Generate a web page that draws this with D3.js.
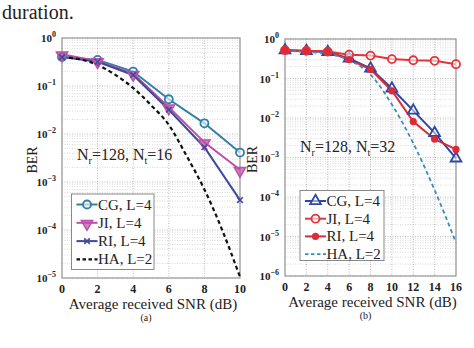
<!DOCTYPE html>
<html>
  <head>
    <meta charset="utf-8" />
    <style>
      body { margin: 0; background: #fff; }
      text { font-family: "Liberation Serif", "DejaVu Serif", serif; fill: #222; }
    </style>
  </head>
  <body>

<svg id="graph"></svg>

<script src="https://d3js.org/d3.v7.min.js"></script>
<script>
const WIDTH = 474
const HEIGHT = 348

// panel (a) : N_r=128, N_t=16
const SNR_A = [0, 2, 4, 6, 8, 10]
const CG_A = [0.40, 0.35, 0.20, 0.053, 0.0167, 0.0041]
const JI_A = [0.46, 0.33, 0.18, 0.036, 0.0067, 0.0018]
const RI_A = [0.40, 0.32, 0.17, 0.032, 0.0053, 0.00042]
const HA_SNR_A = [0, 1, 2, 3, 4, 5, 6, 7, 8, 9, 10]
const HA_A = [0.40, 0.36, 0.275, 0.17, 0.091, 0.040, 0.0155, 0.0035, 0.0007, 0.0001, 0.0000105]
const X_TICKS_A = [0, 2, 4, 6, 8, 10]
const Y_EXP_A = [0, -1, -2, -3, -4, -5]

// panel (b) : N_r=128, N_t=32
const SNR_B = [0, 2, 4, 6, 8, 10, 12, 14, 16]
const CG_B = [0.52, 0.50, 0.47, 0.32, 0.18, 0.056, 0.0154, 0.0042, 0.00095]
const JI_B = [0.52, 0.50, 0.48, 0.40, 0.38, 0.31, 0.29, 0.28, 0.23]
const RI_B = [0.52, 0.50, 0.48, 0.30, 0.17, 0.049, 0.0081, 0.0029, 0.0016]
const HA_B = [0.50, 0.47, 0.42, 0.29, 0.125, 0.022, 0.0023, 0.00015, 0.000007]
const X_TICKS_B = [0, 2, 4, 6, 8, 10, 12, 14, 16]
const Y_EXP_B = [0, -1, -2, -3, -4, -5, -6]

const svg = d3.select('#graph')
  .attr('width', WIDTH)
  .attr('height', HEIGHT)

svg.append('rect').attr('width', WIDTH).attr('height', HEIGHT).attr('fill', '#fff')

// bout de texte du papier, en haut
svg.append('text')
  .attr('x', 2).attr('y', 19)
  .style('font-size', '20px')
  .text('duration.')

function marker(g, type, color, x, y) {
  if (type === 'circle') {
    g.append('circle').attr('cx', x).attr('cy', y).attr('r', 4)
      .attr('fill', '#fff').attr('fill-opacity', 0.6).attr('stroke', color).attr('stroke-width', 1.8)
  } else if (type === 'dot') {
    g.append('circle').attr('cx', x).attr('cy', y).attr('r', 3.6).attr('fill', color)
  } else if (type === 'tridown') {
    g.append('path').attr('d', d3.symbol(d3.symbolTriangle, 55)())
      .attr('transform', `translate(${x},${y + 1}) rotate(180)`)
      .attr('fill', color).attr('fill-opacity', 0.7).attr('stroke', color).attr('stroke-width', 1.5)
  } else if (type === 'triup') {
    g.append('path').attr('d', d3.symbol(d3.symbolTriangle, 50)())
      .attr('transform', `translate(${x},${y})`)
      .attr('fill', '#fff').attr('fill-opacity', 0.5).attr('stroke', color).attr('stroke-width', 1.8)
  } else if (type === 'x') {
    g.append('path').attr('d', d3.symbol(d3.symbolX, 22)())
      .attr('transform', `translate(${x},${y})`)
      .attr('fill', 'none').attr('stroke', color).attr('stroke-width', 1.6)
  }
}

function drawPanel(p) {
  const x = d3.scaleLinear().domain(p.xDomain).range([p.left, p.right])
  const y = d3.scaleLog().domain(p.yDomain).range([p.bottom, p.top])
  const g = svg.append('g')

  // grille secondaire (décades)
  const minor = []
  for (let e = Math.round(Math.log10(p.yDomain[0])); e < 0; e++) {
    for (let k = 2; k <= 9; k++) minor.push(k * Math.pow(10, e))
  }
  g.selectAll('.minor').data(minor).enter().append('line')
    .attr('x1', p.left).attr('x2', p.right)
    .attr('y1', d => y(d)).attr('y2', d => y(d))
    .attr('stroke', '#c8c8c8').attr('stroke-width', 0.7).attr('stroke-dasharray', '1,1.5')

  // grille principale
  g.selectAll('.hmaj').data(p.yExp).enter().append('line')
    .attr('x1', p.left).attr('x2', p.right)
    .attr('y1', d => y(Math.pow(10, d))).attr('y2', d => y(Math.pow(10, d)))
    .attr('stroke', '#aaa').attr('stroke-width', 0.8).attr('stroke-dasharray', '1,1.5')
  g.selectAll('.vmaj').data(p.xTicks).enter().append('line')
    .attr('x1', d => x(d)).attr('x2', d => x(d))
    .attr('y1', p.top).attr('y2', p.bottom)
    .attr('stroke', '#aaa').attr('stroke-width', 0.8).attr('stroke-dasharray', '1,1.5')

  // cadre
  g.append('rect')
    .attr('x', p.left).attr('y', p.top)
    .attr('width', p.right - p.left).attr('height', p.bottom - p.top)
    .attr('fill', 'none').attr('stroke', '#999').attr('stroke-width', 1.2)

  // labels des ticks
  g.selectAll('.xt').data(p.xTicks).enter().append('text')
    .attr('x', d => x(d)).attr('y', p.bottom + 15)
    .attr('text-anchor', 'middle')
    .style('font-size', '12px').style('font-weight', 'bold')
    .text(d => d)
  const yt = g.selectAll('.yt').data(p.yExp).enter().append('text')
    .attr('x', p.left - 6).attr('y', d => y(Math.pow(10, d)) + 4)
    .attr('text-anchor', 'end')
    .style('font-size', '11px').style('font-weight', 'bold')
  yt.append('tspan').text('10')
  yt.append('tspan').attr('dy', -5).style('font-size', '8px')
    .text(d => d === 0 ? '0' : '\u2212' + (-d))

  // titres d'axes
  g.append('text')
    .attr('transform', `translate(${p.berX},${(p.top + p.bottom) / 2 + 2}) rotate(-90)`)
    .attr('text-anchor', 'middle')
    .style('font-size', '14px')
    .text('BER')
  g.append('text')
    .attr('x', (p.left + p.right) / 2 + 2).attr('y', p.bottom + 31)
    .attr('text-anchor', 'middle')
    .style('font-size', '15px')
    .text('Average received SNR (dB)')
  g.append('text')
    .attr('x', (p.left + p.right) / 2 - 5).attr('y', p.bottom + 43)
    .attr('text-anchor', 'middle')
    .style('font-size', '10px')
    .text(p.tag)

  // annotation N_r, N_t
  const ann = g.append('text')
    .attr('x', p.annX).attr('y', p.annY)
    .style('font-size', '16px')
  ann.append('tspan').text('N')
  ann.append('tspan').attr('dy', 4).style('font-size', '10px').text('r')
  ann.append('tspan').attr('dy', -4).text('=128, N')
  ann.append('tspan').attr('dy', 4).style('font-size', '10px').text('t')
  ann.append('tspan').attr('dy', -4).text('=' + p.nt)

  // courbes
  const clip = 'clip' + p.tag.replace(/\W/g, '')
  svg.append('clipPath').attr('id', clip).append('rect')
    .attr('x', p.left).attr('y', p.top - 10)
    .attr('width', p.right - p.left + 8).attr('height', p.bottom - p.top + 10)
  const lg = g.append('g').attr('clip-path', `url(#${clip})`)
  p.series.forEach(s => {
    const pts = s.snr.map((v, i) => [x(v), y(s.ber[i])])
    const line = d3.line().curve(s.smooth ? d3.curveMonotoneX : d3.curveLinear)
    lg.append('path').attr('d', line(pts))
      .attr('fill', 'none').attr('stroke', s.color).attr('stroke-width', s.width || 2)
      .attr('stroke-dasharray', s.dash || null)
    if (s.marker) pts.forEach(pt => marker(g, s.marker, s.color, pt[0], pt[1]))
  })

  // légende
  const L = p.legend
  g.append('rect').attr('x', L.x).attr('y', L.y).attr('width', L.w).attr('height', L.h)
    .attr('fill', '#fff').attr('stroke', '#888').attr('stroke-width', 1)
  p.series.forEach((s, i) => {
    const yy = L.y + 10.5 + i * L.step
    g.append('line').attr('x1', L.x + 5).attr('x2', L.x + 26).attr('y1', yy).attr('y2', yy)
      .attr('stroke', s.color).attr('stroke-width', s.width || 2)
      .attr('stroke-dasharray', s.dash ? '3.5,2.5' : null)
    if (s.marker) marker(g, s.marker, s.color, L.x + 15.5, yy)
    g.append('text').attr('x', L.x + 26.5).attr('y', yy + 5)
      .style('font-size', '15px')
      .text(s.name)
  })
}

drawPanel({
  tag: '(a)', nt: 16,
  left: 62, right: 240, top: 38, bottom: 278,
  xDomain: [0, 10], yDomain: [1e-5, 1],
  xTicks: X_TICKS_A, yExp: Y_EXP_A,
  berX: 37, annX: 77, annY: 160,
  legend: { x: 71.5, y: 194, w: 82.5, h: 75.5, step: 18.3 },
  series: [
    { name: 'CG, L=4', snr: SNR_A, ber: CG_A, color: '#2f7fa6', marker: 'circle' },
    { name: 'JI, L=4', snr: SNR_A, ber: JI_A, color: '#bd4fa8', marker: 'tridown' },
    { name: 'RI, L=4', snr: SNR_A, ber: RI_A, color: '#3f4a9a', marker: 'x' },
    { name: 'HA, L=2', snr: HA_SNR_A, ber: HA_A, color: '#111', dash: '4,3', width: 2.2, smooth: true }
  ]
})

drawPanel({
  tag: '(b)', nt: 32,
  left: 285, right: 456, top: 39, bottom: 276,
  xDomain: [0, 16], yDomain: [1e-6, 1],
  xTicks: X_TICKS_B, yExp: Y_EXP_B,
  berX: 257, annX: 300, annY: 152,
  legend: { x: 300, y: 190.5, w: 84, h: 70, step: 17.7 },
  series: [
    { name: 'CG, L=4', snr: SNR_B, ber: CG_B, color: '#2f47a0', marker: 'triup' },
    { name: 'JI, L=4', snr: SNR_B, ber: JI_B, color: '#e2343c', marker: 'circle' },
    { name: 'RI, L=4', snr: SNR_B, ber: RI_B, color: '#dc2a38', marker: 'dot' },
    { name: 'HA, L=2', snr: SNR_B, ber: HA_B, color: '#3d8cc0', dash: '4,3', width: 1.8, smooth: true }
  ]
})
</script>
  </body>
</html>
